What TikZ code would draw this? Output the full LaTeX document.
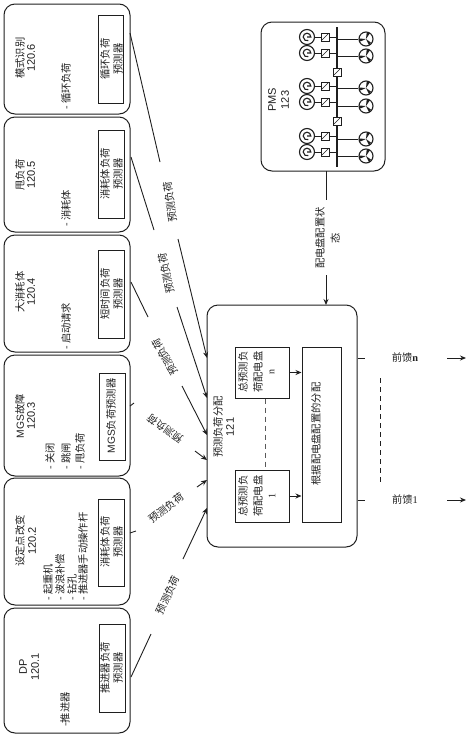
\documentclass[tikz,border=0pt]{standalone}
\usepackage{fontspec}
\setmainfont{Noto Sans CJK SC}
\newfontfamily\latn{Liberation Sans}
\newfontfamily\serf{Liberation Serif}
\newcommand{\cjktext}{\fontsize{10.3}{14}\selectfont}
\newcommand{\numtext}{\latn\fontsize{11}{12}\selectfont}
\usetikzlibrary{arrows.meta}
\definecolor{ink}{gray}{0.12}
\tikzset{
  module/.style={draw=ink,line width=1pt,rounded corners=11pt,minimum width=#1},
  inbox/.style={draw=ink,line width=1pt},
  rottext/.style={rotate=90,text=ink,inner sep=0pt,font=\cjktext},
  numlab/.style={rotate=90,text=ink,inner sep=0pt,font=\numtext},
  botlab/.style={rotate=90,anchor=west,text=ink,inner sep=0pt,font=\cjktext},
  lab/.style={text=ink,inner sep=0pt,font=\cjktext},
  conn/.style={draw=ink,line width=.9pt},
  arr/.style={conn,-{Stealth[length=6pt,width=5pt]}},
  sw/.style={draw=ink,line width=.8pt,fill=white,minimum size=8pt,inner sep=0pt,path picture={\draw[ink,line width=.6pt] (path picture bounding box.south west)--(path picture bounding box.north east);}},
  gen/.style={draw=ink,line width=1.1pt,circle,minimum size=15pt,inner sep=0pt,path picture={
     \draw[ink,line width=1.1pt] ([shift={(0.2pt,0pt)}]path picture bounding box.center) -- ([shift={(3.8pt,0pt)}]path picture bounding box.center) arc[start angle=0,end angle=290,radius=3.8pt];}},
  fan/.style={draw=ink,line width=1.1pt,circle,minimum size=14pt,inner sep=0pt,path picture={
     \foreach \a in {180,60,-60}{
       \fill[ink] (path picture bounding box.center) -- ([shift={(\a-4:7.5pt)}]path picture bounding box.center) -- ([shift={(\a+24:6pt)}]path picture bounding box.center) -- cycle;}}},
}
\begin{document}
\begin{tikzpicture}[x=1pt,y=-1pt]
\useasboundingbox (0,0) rectangle (474,737);
% modules
\node[module=126pt,minimum height=110pt] (m6) at (67,59) {};
\node[module=126pt,minimum height=115pt] (m5) at (67,174.5) {};
\node[module=126pt,minimum height=117pt] (m4) at (67,293.5) {};
\node[module=126pt,minimum height=121pt] (m3) at (67,415.5) {};
\node[module=126pt,minimum height=127pt] (m2) at (67,541.5) {};
\node[module=126pt,minimum height=125pt] (m1) at (67,670.5) {};
% inner predictors
\node[inbox,minimum width=25pt,minimum height=88pt] (p6) at (110.5,59) {};
\node[inbox,minimum width=26pt,minimum height=88pt] (p5) at (111,174) {};
\node[inbox,minimum width=26pt,minimum height=88pt] (p4) at (111,294) {};
\node[inbox,minimum width=26pt,minimum height=87pt] (p3) at (112,416.5) {};
\node[inbox,minimum width=26pt,minimum height=87pt] (p2) at (111,542.5) {};
\node[inbox,minimum width=26pt,minimum height=88pt] (p1) at (112,668) {};
% module titles
\node[rottext] (t6a) at (20,58) {模式识别};
\node[numlab] (t6b) at (31,58) {120.6};
\node[rottext] (t5a) at (20,175) {甩负荷};
\node[numlab] (t5b) at (31,175) {120.5};
\node[rottext] (t4a) at (20,292) {大消耗体};
\node[numlab] (t4b) at (31,292) {120.4};
\node[rottext] (t3a) at (20,416) {\latn MGS\rmfamily 故障};
\node[numlab] (t3b) at (31,416) {120.3};
\node[rottext] (t2a) at (20,541) {设定点改变};
\node[numlab] (t2b) at (32,541) {120.2};
\node[numlab] (t1a) at (23,667) {DP};
\node[numlab] (t1b) at (35,667) {120.1};
% bullets
\node[botlab] (b6) at (66,110) {- 循环负荷};
\node[botlab] (b5) at (66,227) {- 消耗体};
\node[botlab] (b4) at (66,350) {- 启动请求};
\node[botlab] (b3a) at (50,470) {- 关闭};
\node[botlab] (b3b) at (66,470) {- 跳闸};
\node[botlab] (b3c) at (80,470) {- 甩负荷};
\node[botlab] (b2a) at (48,601) {- 起重机};
\node[botlab] (b2b) at (60,601) {- 波浪补偿};
\node[botlab] (b2c) at (72,601) {- 钻孔};
\node[botlab] (b2d) at (83,601) {- 推进器手动操作杆};
\node[botlab] (b1) at (65,727) {-推进器};
% predictor text
\node[rottext] (q6a) at (105,59) {循环负荷};
\node[rottext] (q6b) at (118,59) {预测器};
\node[rottext] (q5a) at (105,174) {消耗体负荷};
\node[rottext] (q5b) at (118,174) {预测器};
\node[rottext] (q4a) at (105,294) {短时间负荷};
\node[rottext] (q4b) at (118,294) {预测器};
\node[rottext] (q3a) at (111,416) {\latn MGS\rmfamily 负荷预测器};
\node[rottext] (q2a) at (105,542) {消耗体负荷};
\node[rottext] (q2b) at (118,542) {预测器};
\node[rottext] (q1a) at (105,668) {推进器负荷};
\node[rottext] (q1b) at (118,668) {预测器};
% allocation
\node[module=150pt,minimum height=242pt] (alloc) at (282,426) {};
\node[rottext] (at) at (218,427) {预测负荷分配};
\node[numlab] (an) at (230,427) {121};
\node[inbox,minimum width=54pt,minimum height=51pt] (swn) at (262,372.5) {};
\node[inbox,minimum width=54pt,minimum height=52pt] (sw1) at (262,496) {};
\node[inbox,minimum width=39pt,minimum height=175pt] (big) at (321.5,434.5) {};
\node[rottext] (sna) at (243,372) {总预测负};
\node[rottext] (snb) at (258,372) {荷配电盘};
\node[rottext,font=\serf\fontsize{10}{11}\selectfont] (snc) at (272,372) {n};
\node[rottext] (s1a) at (243,496) {总预测负};
\node[rottext] (s1b) at (258,496) {荷配电盘};
\node[rottext,font=\serf\fontsize{10}{11}\selectfont] (s1c) at (272,496) {1};
\node[rottext] (bt) at (316,434) {根据配电盘配置的分配};
\draw[arr] (swn.east) -- (swn.east -| big.west);
\draw[arr] (sw1.east) -- (sw1.east -| big.west);
\draw[draw=gray!70!black,line width=1pt,dash pattern=on 5pt off 4pt] (swn.east |- swn.south) ++(-24,0) coordinate (dsh) -- (dsh |- sw1.north);
% feeds
\node[lab] (fn) at (405,358) {前馈\serf\bfseries n};
\node[lab] (f1) at (405,500) {前馈\serf 1};
\coordinate (sn) at (alloc.east |- fn);
\coordinate (s1) at (alloc.east |- f1);
\coordinate (sne) at (365,358);
\coordinate (s1e) at (365,500);
\coordinate (fna) at (447,358);
\coordinate (fnb) at (466,358);
\coordinate (f1a) at (447,500);
\coordinate (f1b) at (466,500);
\draw[conn] (sn) -- (sne);
\draw[conn] (s1) -- (s1e);
\draw[arr] (fna) -- (fnb);
\draw[arr] (f1a) -- (f1b);
\coordinate (da) at (380,378);
\coordinate (db) at (380,483);
\draw[conn,dash pattern=on 5pt off 4pt] (da) -- (db);
% PMS
\node[module=124pt,minimum height=149pt] (pms) at (323,96.5) {};
\node[numlab] (pa) at (272,100) {PMS};
\node[numlab] (pb) at (285,100) {123};
\coordinate (bt1) at (337,27);
\coordinate (bt2) at (337,167);
\draw[conn,line width=1.1pt] (bt1) -- (bt2);
\foreach \n/\gy/\fy in {1/37/39,2/53/56,3/86/88,4/102/106,5/136/139,6/152/156}{
  \node[gen] (g\n) at (307,\gy) {};
  \node[sw] (s\n) at (325,\gy) {};
  \node[fan] (w\n) at (366,\fy) {};
  \draw[conn] (g\n) -- (s\n);
  \draw[conn] (s\n) -- (bt1 |- s\n);
  \draw[conn] (bt1 |- w\n) -- (w\n);
}
\node[sw] (t1) at (337,72) {};
\node[sw] (t2) at (337,121) {};
% PMS to allocation
\node[rottext] (cfg1) at (320,238) {配电盘配置状};
\node[rottext] (cfg2) at (335,238) {态};
\coordinate (pu) at (326,171);
\coordinate (pe) at (326,200);
\coordinate (ps) at (326,275);
\coordinate (pt) at (326,305);
\draw[conn] (pu) -- (pe);
\draw[arr] (ps) -- (pt);
% forecast connectors
\node[lab,rotate=98] (l6) at (170,202) {预测负荷};
\node[lab,rotate=102] (l5) at (166,273) {预测负荷};
\node[lab,rotate=120] (l4) at (165,357) {预测负荷};
\node[lab,rotate=145] (l3) at (165,429) {预测负荷};
\node[lab,rotate=38] (l2) at (166,508) {预测负荷};
\node[lab,rotate=65] (l1) at (168,595) {预测负荷};
\coordinate (a6) at (130,33);   \coordinate (a6e) at (160,162);
\coordinate (c6) at (178,239);  \coordinate (d6) at (207,358);
\coordinate (a5) at (131,157);  \coordinate (a5e) at (154,230);
\coordinate (c5) at (177,307);  \coordinate (d5) at (207,398);
\coordinate (a4) at (131,282);  \coordinate (a4e) at (148,317);
\coordinate (c4) at (182,386);  \coordinate (d4) at (207,435);
\coordinate (a3) at (130,406);  \coordinate (a3e) at (134,403);
\coordinate (c3) at (195,451);  \coordinate (d3) at (207,460);
\coordinate (a2) at (130,533);  \coordinate (a2e) at (136,531);
\coordinate (c2) at (197,487);  \coordinate (d2) at (207,480);
\coordinate (a1) at (131,677);  \coordinate (a1e) at (151,634);
\coordinate (c1) at (183,559);  \coordinate (d1) at (207,508);
\foreach \k in {1,...,6}{
  \draw[conn] (a\k) -- (a\k e);
  \draw[arr] (c\k) -- (d\k);
}
\end{tikzpicture}
\end{document}
